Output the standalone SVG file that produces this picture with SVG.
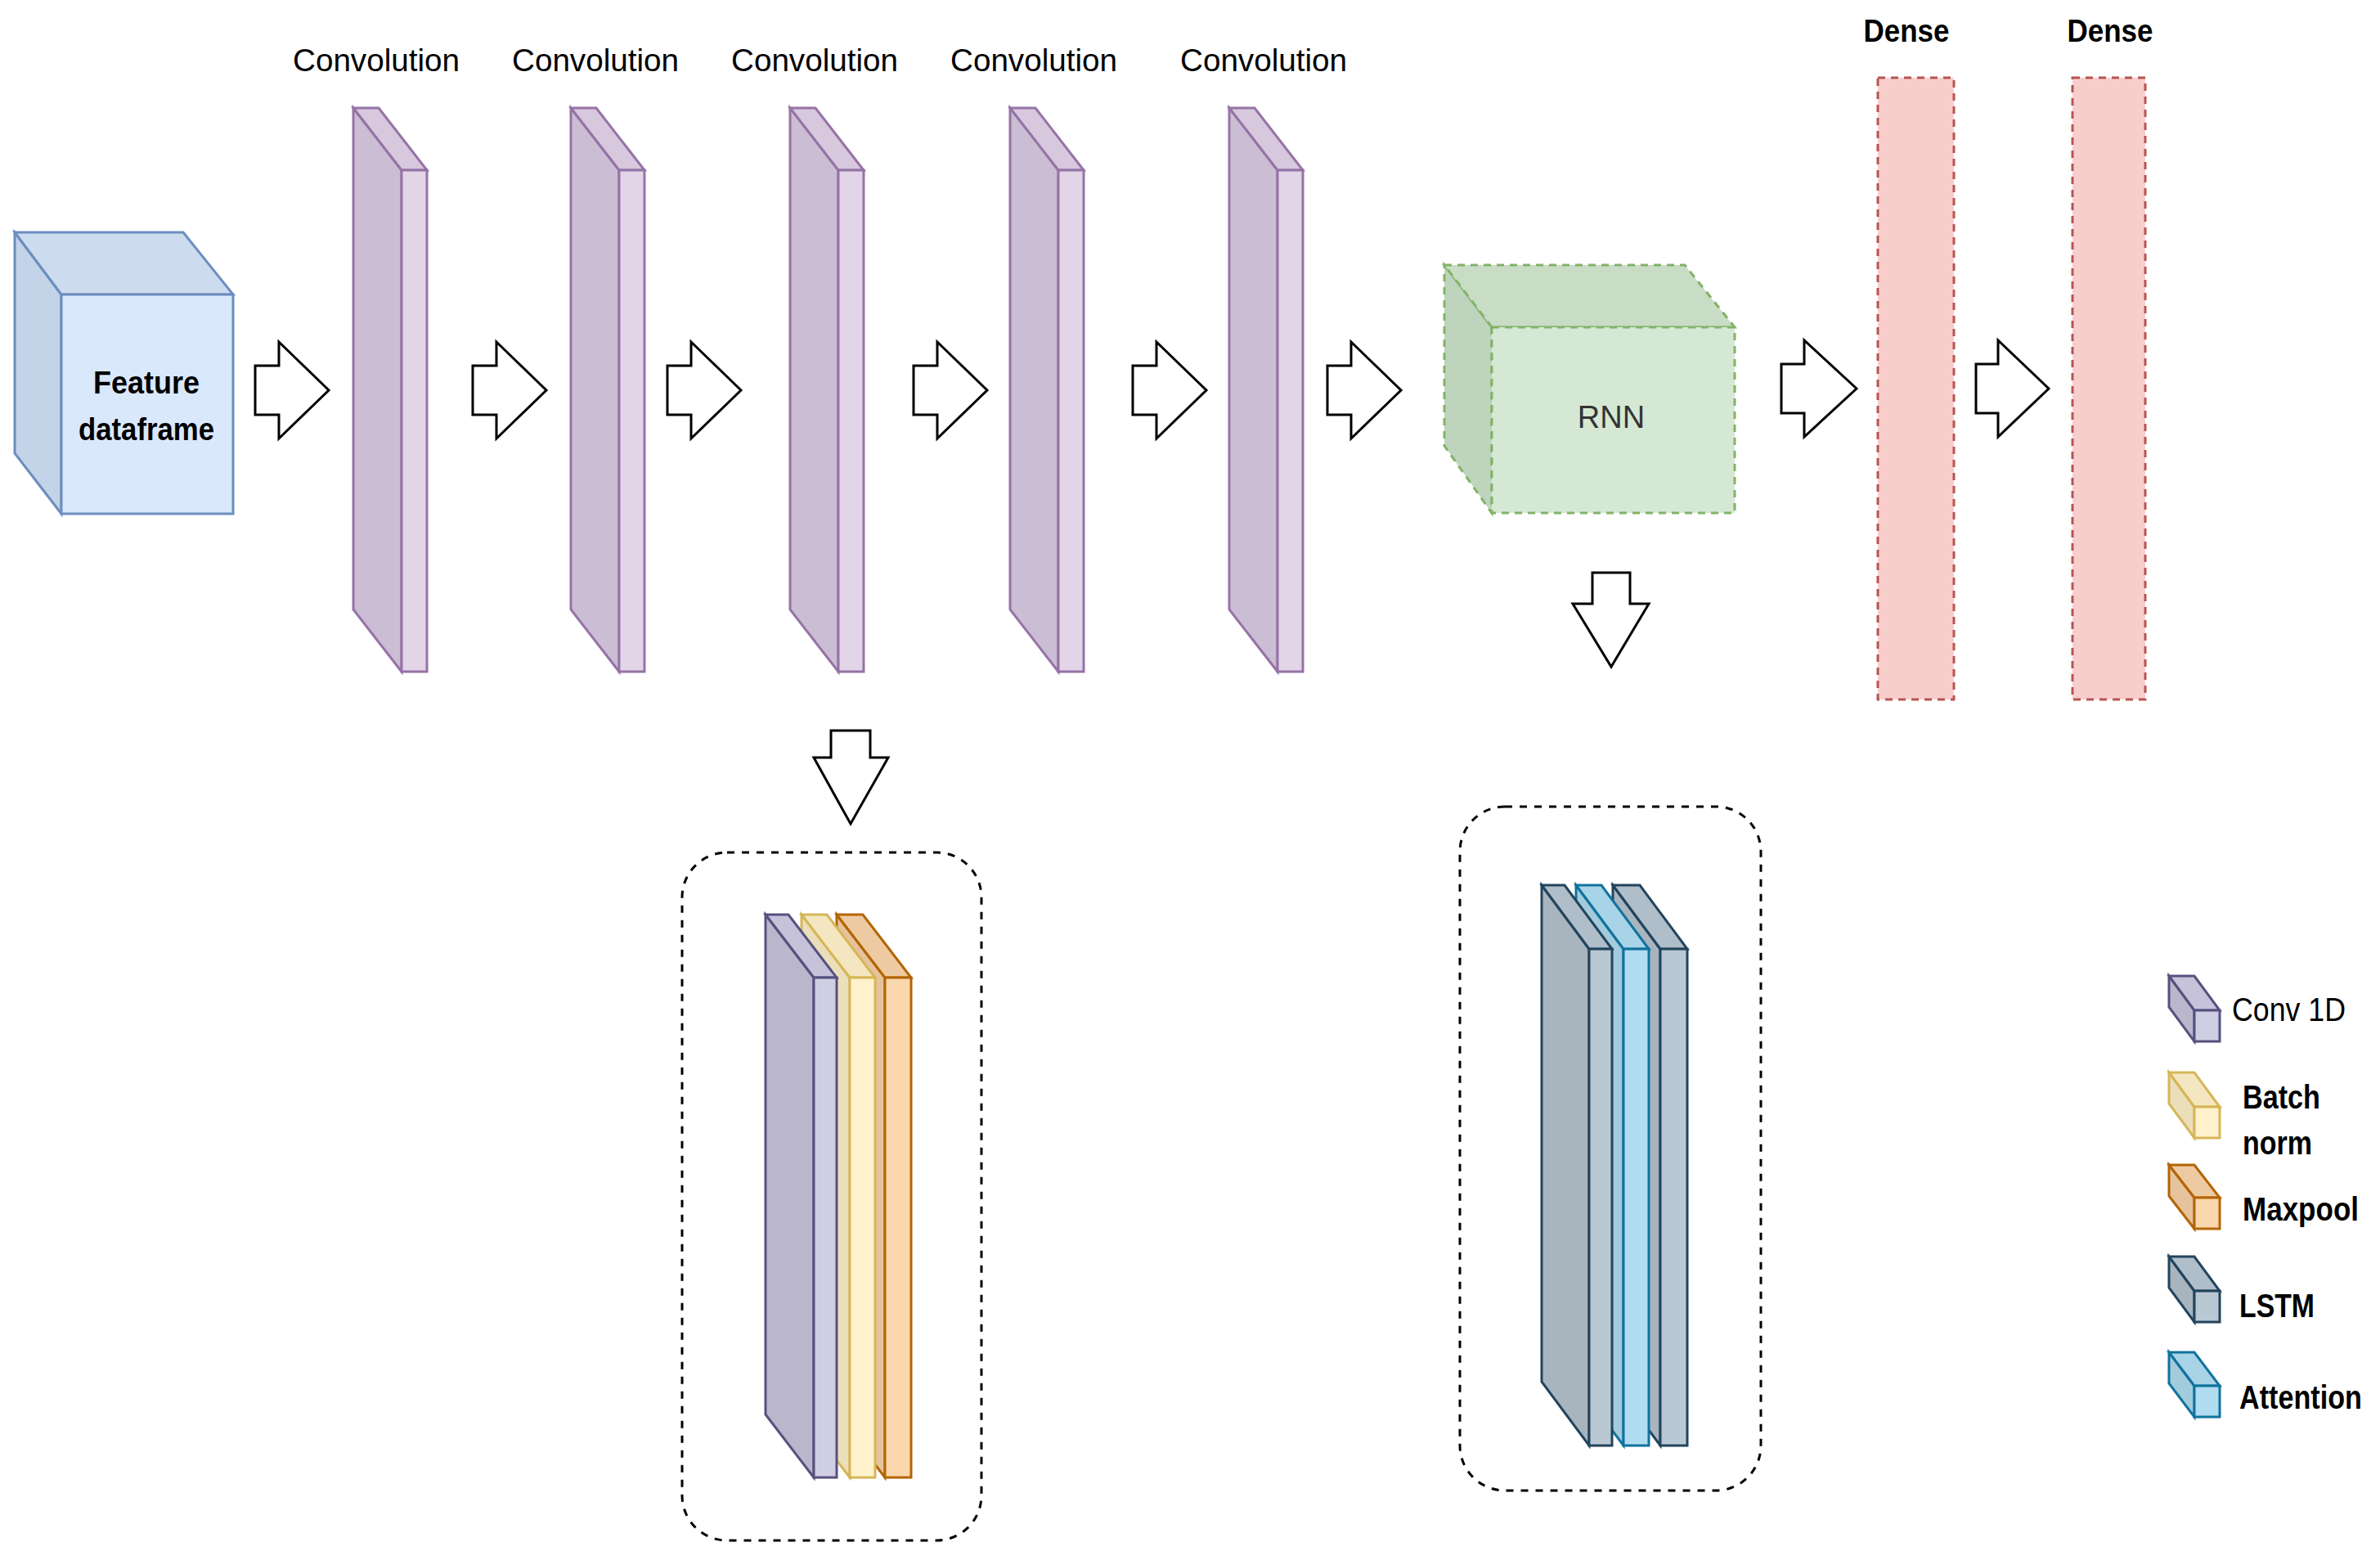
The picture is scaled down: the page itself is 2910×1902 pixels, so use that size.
<svg xmlns="http://www.w3.org/2000/svg" width="2910" height="1902" viewBox="0 0 2910 1902">
<style>
text{font-family:"Liberation Sans",Arial,sans-serif;fill:#000}
.lbl{font-size:38px;text-anchor:middle}
.b{font-weight:bold}
.arr{fill:#fff;stroke:#000;stroke-width:3;stroke-linejoin:miter}
.cv .l{fill:#cbbdd3}.cv .t{fill:#d7c8de}.cv .f{fill:#e1d5e7}.cv *{stroke:#9673a6;stroke-width:3}
.c1 .l{fill:#bab7cd}.c1 .t{fill:#c5c2d9}.c1 .f{fill:#d0cee2}.c1 *{stroke:#56517e;stroke-width:3}
.bn .l{fill:#ebdfbb}.bn .t{fill:#f3e6c0}.bn .f{fill:#fff2cc}.bn *{stroke:#d6b656;stroke-width:3}
.mp .l{fill:#e6c39d}.mp .t{fill:#eecaa2}.mp .f{fill:#fad7ac}.mp *{stroke:#b46504;stroke-width:3}
.ls .l{fill:#a8b5bf}.ls .t{fill:#b0bec9}.ls .f{fill:#bac8d3}.ls *{stroke:#23445d;stroke-width:3}
.at .l{fill:#a2cbdc}.at .t{fill:#a9d3e6}.at .f{fill:#b1ddf0}.at *{stroke:#10739e;stroke-width:3}
.box{fill:none;stroke:#000;stroke-width:3;stroke-dasharray:9 9}
</style>
<g id="feature">
<polygon points="18,284 75,360 75,628 18,554" fill="#c3d3e8" stroke="#6c8ebf" stroke-width="3"/>
<polygon points="18,284 224,284 285,360 75,360" fill="#cddbee" stroke="#6c8ebf" stroke-width="3"/>
<rect x="75" y="360" width="210" height="268" fill="#dae8fc" stroke="#6c8ebf" stroke-width="3"/>
<text class="lbl b" x="179" y="481" font-size="40" textLength="130" lengthAdjust="spacingAndGlyphs">Feature</text>
<text class="lbl b" x="179" y="538" font-size="40" textLength="166" lengthAdjust="spacingAndGlyphs">dataframe</text>
</g>
<g id="conv1" class="cv"><polygon class="l" points="432,132 491,208 491,821 432,745"/><polygon class="t" points="432,132 463,132 522,208 491,208"/><rect class="f" x="491" y="208" width="31" height="613"/></g>
<g id="conv2" class="cv"><polygon class="l" points="698,132 757,208 757,821 698,745"/><polygon class="t" points="698,132 729,132 788,208 757,208"/><rect class="f" x="757" y="208" width="31" height="613"/></g>
<g id="conv3" class="cv"><polygon class="l" points="966,132 1025,208 1025,821 966,745"/><polygon class="t" points="966,132 997,132 1056,208 1025,208"/><rect class="f" x="1025" y="208" width="31" height="613"/></g>
<g id="conv4" class="cv"><polygon class="l" points="1235,132 1294,208 1294,821 1235,745"/><polygon class="t" points="1235,132 1266,132 1325,208 1294,208"/><rect class="f" x="1294" y="208" width="31" height="613"/></g>
<g id="conv5" class="cv"><polygon class="l" points="1503,132 1562,208 1562,821 1503,745"/><polygon class="t" points="1503,132 1534,132 1593,208 1562,208"/><rect class="f" x="1562" y="208" width="31" height="613"/></g>
<g id="conv-labels">
<text class="lbl" x="460" y="87" textLength="204" lengthAdjust="spacingAndGlyphs">Convolution</text>
<text class="lbl" x="728" y="87" textLength="204" lengthAdjust="spacingAndGlyphs">Convolution</text>
<text class="lbl" x="996" y="87" textLength="204" lengthAdjust="spacingAndGlyphs">Convolution</text>
<text class="lbl" x="1264" y="87" textLength="204" lengthAdjust="spacingAndGlyphs">Convolution</text>
<text class="lbl" x="1545" y="87" textLength="204" lengthAdjust="spacingAndGlyphs">Convolution</text>
</g>
<g id="rnn">
<polygon points="1766,324 1824,400 1824,627 1766,545" fill="#bfd4bd" stroke="#82b366" stroke-width="3" stroke-dasharray="9 7"/>
<polygon points="1766,324 2060,324 2121,400 1824,400" fill="#c8dcc6" stroke="#82b366" stroke-width="3" stroke-dasharray="9 7"/>
<rect x="1824" y="400" width="297" height="227" fill="#d5e8d4" stroke="#82b366" stroke-width="3" stroke-dasharray="9 7"/>
<text class="lbl" x="1970" y="523" font-size="42" fill="#333" style="fill:#333">RNN</text>
</g>
<g id="dense1">
<rect x="2296" y="95" width="93" height="760" fill="#f8cecc" stroke="#b85450" stroke-width="3" stroke-dasharray="9 7"/>
<text class="lbl b" x="2331" y="51" textLength="105" lengthAdjust="spacingAndGlyphs">Dense</text>
</g>
<g id="dense2">
<rect x="2534" y="95" width="89" height="760" fill="#f8cecc" stroke="#b85450" stroke-width="3" stroke-dasharray="9 7"/>
<text class="lbl b" x="2580" y="51" textLength="105" lengthAdjust="spacingAndGlyphs">Dense</text>
</g>
<g id="cnn-detail">
<rect class="box" x="834" y="1042" width="366" height="841" rx="55"/>
<g class="mp"><polygon class="l" points="1023,1118 1082,1195 1082,1806 1023,1729"/><polygon class="t" points="1023,1118 1055,1118 1114,1195 1082,1195"/><rect class="f" x="1082" y="1195" width="32" height="611"/></g>
<g class="bn"><polygon class="l" points="980,1118 1039,1195 1039,1806 980,1729"/><polygon class="t" points="980,1118 1011,1118 1070,1195 1039,1195"/><rect class="f" x="1039" y="1195" width="31" height="611"/></g>
<g class="c1"><polygon class="l" points="936,1118 995,1195 995,1806 936,1729"/><polygon class="t" points="936,1118 964,1118 1023,1195 995,1195"/><rect class="f" x="995" y="1195" width="28" height="611"/></g>
</g>
<g id="rnn-detail">
<rect class="box" x="1785" y="986" width="368" height="836" rx="55"/>
<g class="ls"><polygon class="l" points="1972,1082 2030,1160 2030,1767 1972,1689"/><polygon class="t" points="1972,1082 2005,1082 2063,1160 2030,1160"/><rect class="f" x="2030" y="1160" width="33" height="607"/></g>
<g class="at"><polygon class="l" points="1927,1082 1985,1160 1985,1767 1927,1689"/><polygon class="t" points="1927,1082 1958,1082 2016,1160 1985,1160"/><rect class="f" x="1985" y="1160" width="31" height="607"/></g>
<g class="ls"><polygon class="l" points="1885,1082 1943,1160 1943,1767 1885,1689"/><polygon class="t" points="1885,1082 1913,1082 1971,1160 1943,1160"/><rect class="f" x="1943" y="1160" width="28" height="607"/></g>
</g>
<g id="connectors">
<path class="arr" d="M312,447 H341 V418 L402,477 L341,536 V507 H312 Z"/>
<path class="arr" d="M578,447 H607 V418 L668,477 L607,536 V507 H578 Z"/>
<path class="arr" d="M816,447 H845 V418 L906,477 L845,536 V507 H816 Z"/>
<path class="arr" d="M1117,447 H1146 V418 L1207,477 L1146,536 V507 H1117 Z"/>
<path class="arr" d="M1385,447 H1414 V418 L1475,477 L1414,536 V507 H1385 Z"/>
<path class="arr" d="M1623,447 H1652 V418 L1713,477 L1652,536 V507 H1623 Z"/>
<path class="arr" d="M2178,445 H2206 V416 L2270,475 L2206,534 V505 H2178 Z"/>
<path class="arr" d="M2416,445 H2443 V416 L2505,475 L2443,534 V505 H2416 Z"/>
<path class="arr" d="M1016,893 H1064 V926 H1086 L1040,1007 L995,926 H1016 Z"/>
<path class="arr" d="M1947,700 H1993 V738 H2016 L1970,815 L1923,738 H1947 Z"/>
</g>
<g id="legend">
<g class="c1"><polygon class="l" points="2652,1193 2683,1235 2683,1273 2652,1231"/><polygon class="t" points="2652,1193 2683,1193 2714,1235 2683,1235"/><rect class="f" x="2683" y="1235" width="31" height="38"/></g>
<g class="bn"><polygon class="l" points="2652,1311 2683,1353 2683,1391 2652,1349"/><polygon class="t" points="2652,1311 2683,1311 2714,1353 2683,1353"/><rect class="f" x="2683" y="1353" width="31" height="38"/></g>
<g class="mp"><polygon class="l" points="2652,1424 2683,1464 2683,1502 2652,1462"/><polygon class="t" points="2652,1424 2683,1424 2714,1464 2683,1464"/><rect class="f" x="2683" y="1464" width="31" height="38"/></g>
<g class="ls"><polygon class="l" points="2652,1536 2683,1578 2683,1616 2652,1574"/><polygon class="t" points="2652,1536 2683,1536 2714,1578 2683,1578"/><rect class="f" x="2683" y="1578" width="31" height="38"/></g>
<g class="at"><polygon class="l" points="2652,1653 2683,1694 2683,1732 2652,1691"/><polygon class="t" points="2652,1653 2683,1653 2714,1694 2683,1694"/><rect class="f" x="2683" y="1694" width="31" height="38"/></g>
<text x="2729" y="1248" font-size="40" textLength="139" lengthAdjust="spacingAndGlyphs">Conv 1D</text>
<text x="2742" y="1355" font-size="40" class="b" textLength="95" lengthAdjust="spacingAndGlyphs">Batch</text>
<text x="2742" y="1411" font-size="40" class="b" textLength="85" lengthAdjust="spacingAndGlyphs">norm</text>
<text x="2742" y="1492" font-size="40" class="b" textLength="142" lengthAdjust="spacingAndGlyphs">Maxpool</text>
<text x="2738" y="1610" font-size="40" class="b" textLength="92" lengthAdjust="spacingAndGlyphs">LSTM</text>
<text x="2738" y="1722" font-size="40" class="b" textLength="150" lengthAdjust="spacingAndGlyphs">Attention</text>
</g>
</svg>
